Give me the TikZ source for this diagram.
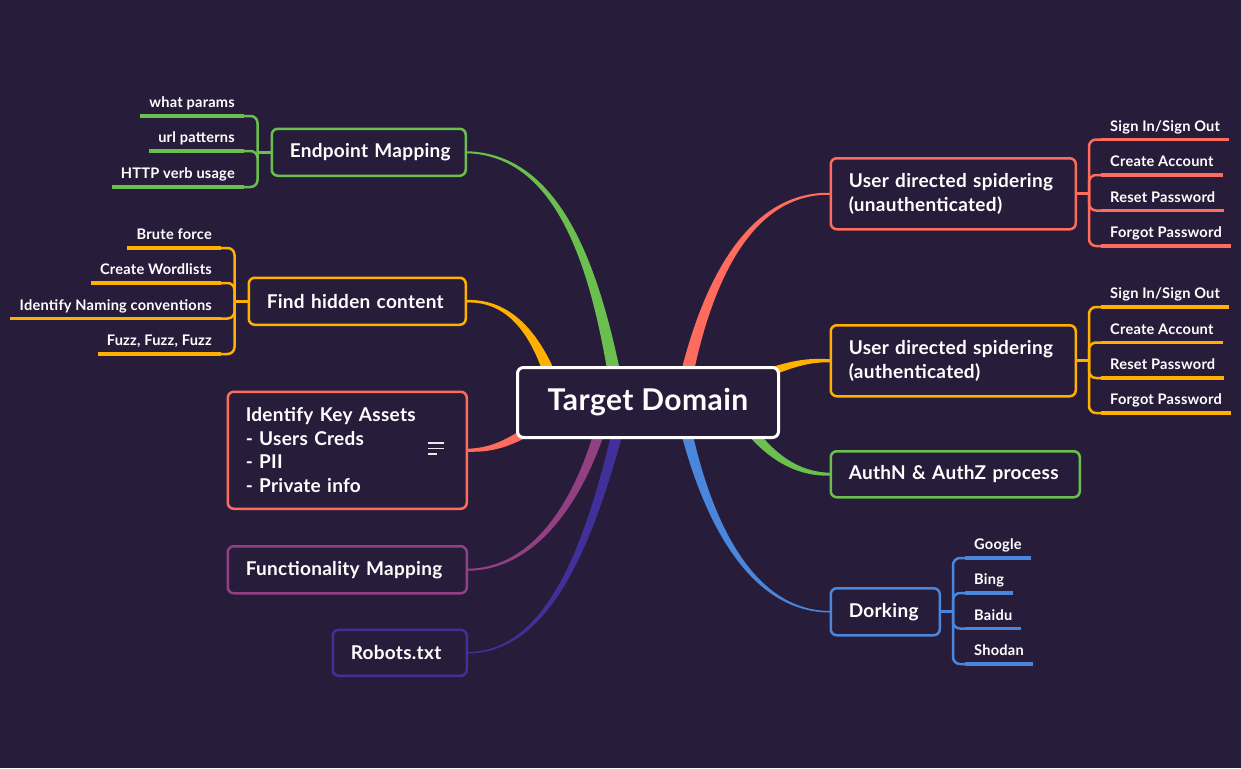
\documentclass[tikz,border=0pt]{standalone}
\usepackage{fontspec}
\setmainfont[LetterSpace=1.5]{Lato}
\usetikzlibrary{calc,backgrounds}

\definecolor{mapbg}{HTML}{271D3A}
\definecolor{mapred}{HTML}{FF6B5C}
\definecolor{mapgreen}{HTML}{6ABF4F}
\definecolor{maporange}{HTML}{FFB000}
\definecolor{mappurple}{HTML}{934083}
\definecolor{mapindigo}{HTML}{41309A}
\definecolor{mapblue}{HTML}{4A86DB}

\tikzset{
topic/.style={draw=#1, fill=mapbg, line width=2.5pt, rounded corners=6pt, text=white, inner xsep=18pt, inner ysep=0pt, align=left, anchor=north west, font=\fontsize{19}{23.5}\selectfont\bfseries},
kidR/.style={text=white, inner xsep=9pt, inner ysep=5pt, text height=10pt, text depth=3pt, anchor=south west, font=\fontsize{14.6}{16}\selectfont\bfseries},
kidL/.style={kidR, anchor=south east},
bracket/.style={draw=#1, line width=2.5pt, rounded corners=7pt},
stem/.style={draw=#1, line width=3pt},
underline/.style={draw=#1, line width=3.5pt}
}

% tapered branch from a topic into the central box
\newcommand{\trunk}[6]{
  \path[draw, fill, #1, line join=round] (#2) .. controls ($(#3)+0.25*(#6)$) and ($(#4)+0.6*(#6)$) .. ($(#5)+(#6)$) -- ($(#5)-(#6)$) .. controls ($(#4)-0.6*(#6)$) and ($(#3)-0.25*(#6)$) .. (#2) -- cycle;
}

\begin{document}
\begin{tikzpicture}[x=1pt,y=-1pt]

\useasboundingbox (0,0) rectangle (1241,768);

%central box
\node[topic=white, line width=3pt, minimum width=261pt, minimum height=70pt, anchor=center, align=center, inner xsep=0pt, font=\fontsize{30}{34}\selectfont\bfseries] (domain) at (648,402.5) {Target Domain};

%left topics
\node[topic=mapgreen, text width=158pt, minimum height=47pt] (endpoint) at (270.5,127.5) {\mbox{Endpoint Mapping}};
\node[topic=maporange, text width=181pt, minimum height=47pt] (hidden) at (247.5,276.5) {Find hidden content};
\node[topic=mapred, text width=203pt, minimum height=117pt] (assets) at (226.5,390.5) {Identify Key Assets\\- Users Creds\\- PII\\- Private info};
\node[topic=mappurple, text width=203pt, minimum height=47pt] (function) at (226.5,545) {Functionality Mapping};
\node[topic=mapindigo, text width=98pt, minimum height=46pt] (robots) at (331.5,628.5) {Robots.txt};

%right topics
\node[topic=mapred, text width=209pt, minimum height=71pt] (unauth) at (829.5,157) {User directed spidering\\(unauthenticated)};
\node[topic=maporange, text width=209pt, minimum height=71pt] (auth) at (829.5,324) {User directed spidering\\(authenticated)};
\node[topic=mapgreen, text width=213pt, minimum height=46pt] (authn) at (829.5,450) {AuthN \& AuthZ process};
\node[topic=mapblue, text width=73pt, minimum height=47pt] (dorking) at (829.5,587) {Dorking};

%the note icon
\draw[white!90!mapbg, line width=1.2pt] (428,443) -- (444,443) (428,448.5) -- (444,448.5) (428,454) -- (437,454);

%left kids
\node[kidL] (params) at (244,116) {what params};
\node[kidL] (patterns) at (244,151) {url patterns};
\node[kidL] (verb) at (244,187) {HTTP verb usage};

\node[kidL] (brute) at (221,248) {Brute force};
\node[kidL] (wordlists) at (221,283) {Create Wordlists};
\node[kidL] (naming) at (221,318.5) {Identify Naming conventions};
\node[kidL] (fuzz) at (221,354) {Fuzz, Fuzz, Fuzz};

%right kids
\node[kidR] (signa) at (1101,139.5) {Sign In/Sign Out};
\node[kidR] (createa) at (1101,175) {Create Account};
\node[kidR] (reseta) at (1101,210.5) {Reset Password};
\node[kidR] (forgota) at (1101,246) {Forgot Password};

\node[kidR] (signb) at (1101,307) {Sign In/Sign Out};
\node[kidR] (createb) at (1101,342.5) {Create Account};
\node[kidR] (resetb) at (1101,378) {Reset Password};
\node[kidR] (forgotb) at (1101,413) {Forgot Password};

\node[kidR] (google) at (965,558) {Google};
\node[kidR] (bing) at (965,593) {Bing};
\node[kidR] (baidu) at (965,628.5) {Baidu};
\node[kidR] (shodan) at (965,664) {Shodan};

\begin{pgfonlayer}{background}
\fill[mapbg] (0,0) rectangle (1241,768);

%now the branches
\trunk{mapgreen, line width=2pt}{endpoint.east}{560,155}{595,270}{615,378}{5.5,0}
\trunk{maporange, line width=2.5pt}{hidden.east}{510,300}{535,335}{550,375}{5,0}
\trunk{mapred, line width=3pt}{assets.east}{490,450}{505,445}{530,430}{1.5,3}
\trunk{mappurple, line width=2pt}{function.east}{530,569}{575,510}{600,430}{4.5,0}
\trunk{mapindigo, line width=1.5pt}{robots.east}{550,652}{590,540}{618,430}{5,0}

\trunk{mapred, line width=2pt}{unauth.west}{755,193}{710,270}{686,378}{5.5,0}
\trunk{maporange, line width=3pt}{auth.west}{810,360}{795,363}{770,372}{1,2.5}
\trunk{mapgreen, line width=3pt}{authn.west}{800,474}{775,460}{752,432}{2.5,-2.5}
\trunk{mapblue, line width=1.5pt}{dorking.west}{755,611}{710,530}{686,430}{5,0}

%now the brackets
\foreach \a/\b/\c in {endpoint/params/mapgreen, endpoint/patterns/mapgreen, endpoint/verb/mapgreen, hidden/brute/maporange, hidden/wordlists/maporange, hidden/naming/maporange, hidden/fuzz/maporange}{
  \draw[stem=\c] (\a.west) -- ++(-13,0) coordinate (fork);
  \draw[bracket=\c] (fork) |- (\b.south east);
  \draw[underline=\c] (\b.south west) -- (\b.south east);
}

\foreach \a/\b/\c in {unauth/signa/mapred, unauth/createa/mapred, unauth/reseta/mapred, unauth/forgota/mapred, auth/signb/maporange, auth/createb/maporange, auth/resetb/maporange, auth/forgotb/maporange, dorking/google/mapblue, dorking/bing/mapblue, dorking/baidu/mapblue, dorking/shodan/mapblue}{
  \draw[stem=\c] (\a.east) -- ++(12,0) coordinate (fork);
  \draw[bracket=\c] (fork) |- (\b.south west);
  \draw[underline=\c] (\b.south west) -- (\b.south east);
}
\end{pgfonlayer}

\end{tikzpicture}
\end{document}
